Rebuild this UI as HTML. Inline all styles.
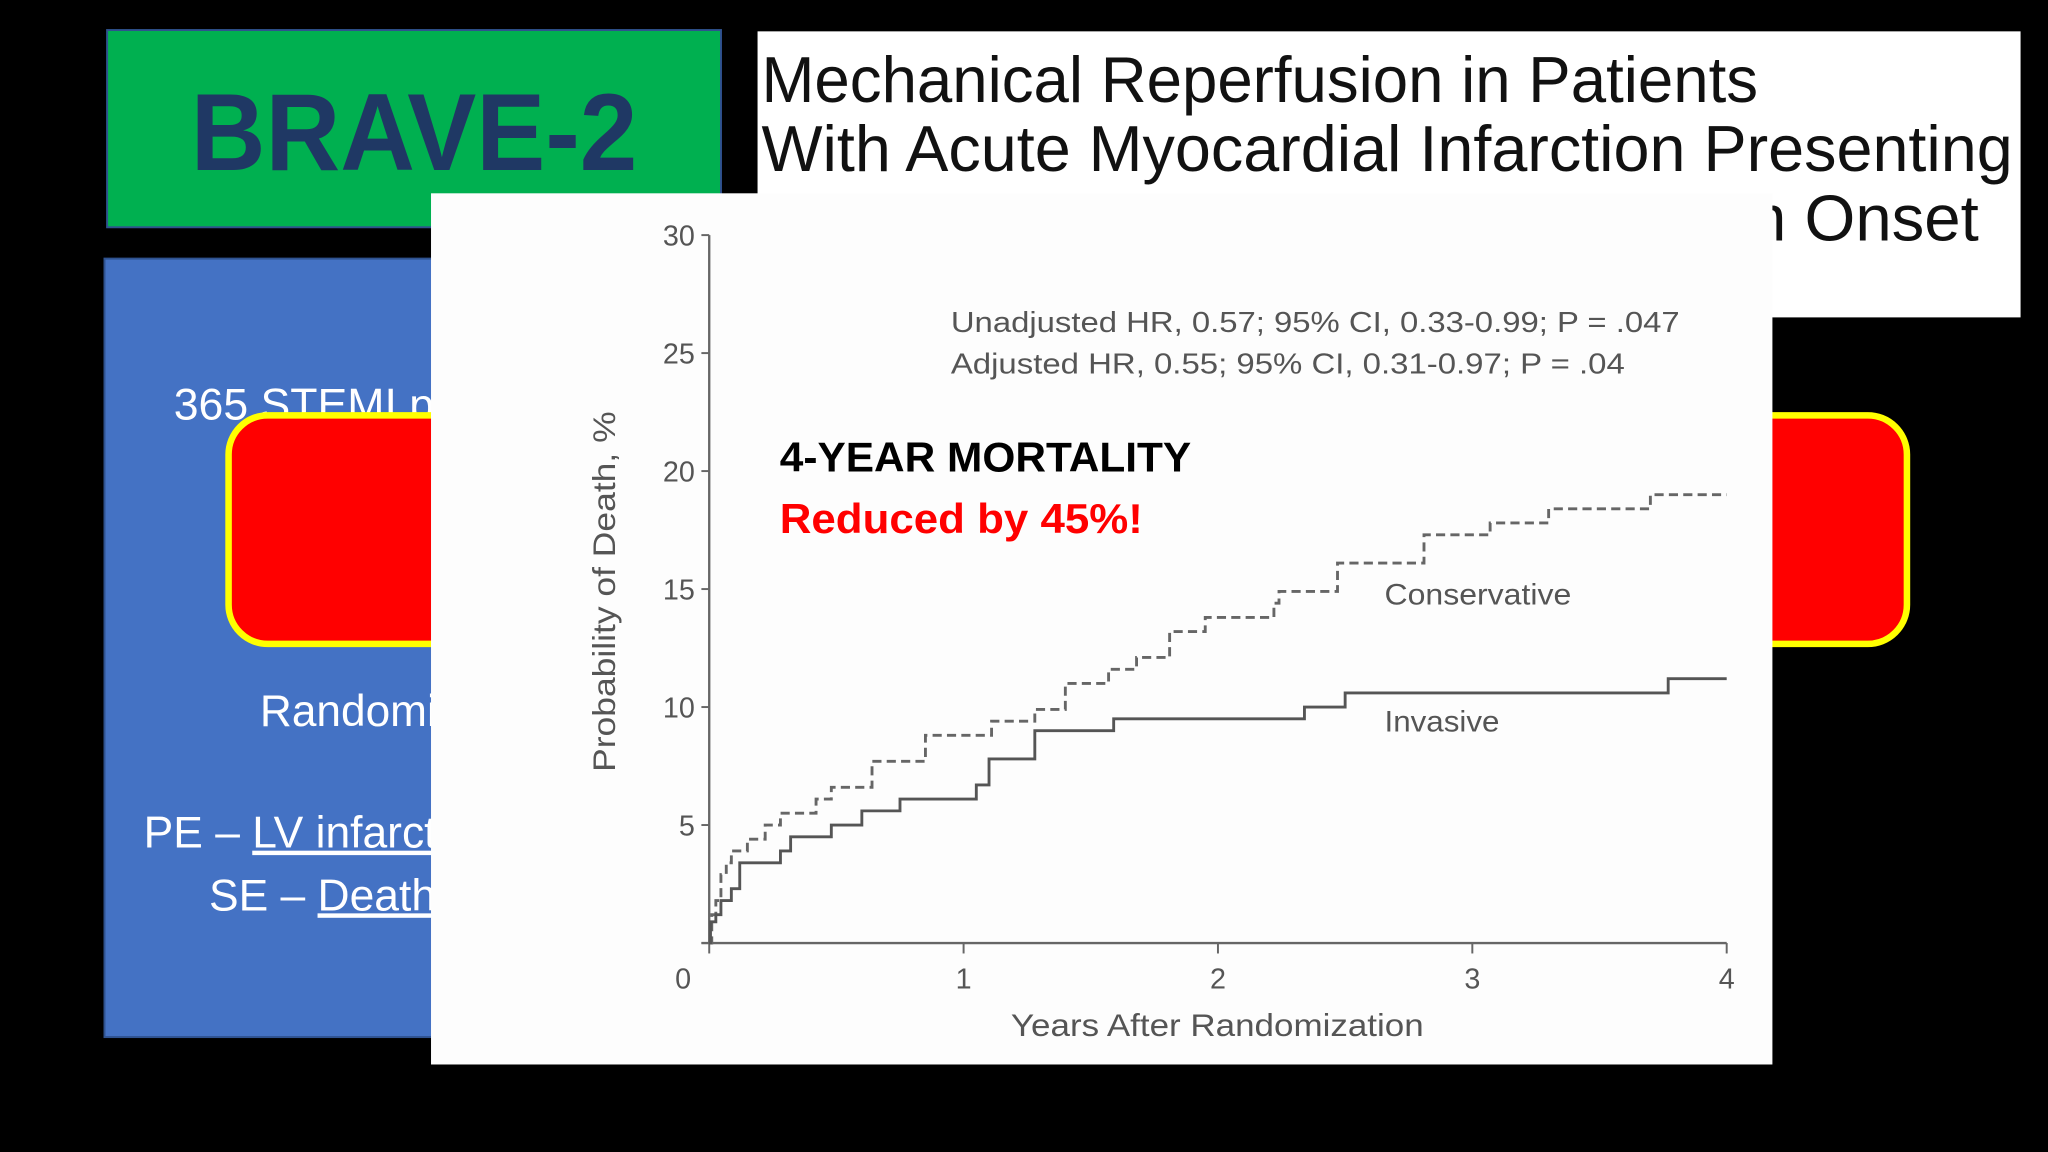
<!DOCTYPE html>
<html><head><meta charset="utf-8"><style>
html,body{margin:0;padding:0;background:#000;}
svg{display:block;}
</style></head><body>
<svg width="2048" height="1152" viewBox="0 0 1568 882" xmlns="http://www.w3.org/2000/svg">
<rect width="1568" height="882" fill="#000"/>
<rect x="80" y="198" width="260" height="596" fill="#4472c4" stroke="#2f528f" stroke-width="1.5"/>
<g font-family="Liberation Sans, sans-serif" font-size="34" fill="#fff">
<text x="133" y="321" textLength="300" lengthAdjust="spacingAndGlyphs">365 STEMI patients</text>
<text x="199" y="556" textLength="190" lengthAdjust="spacingAndGlyphs">Randomized</text>
<text x="110" y="649">PE – <tspan text-decoration="underline">LV infarct size</tspan></text>
<text x="160" y="697">SE – <tspan text-decoration="underline">Death</tspan></text>
</g>
<rect x="175" y="318" width="1285" height="175" rx="30" fill="#ff0000" stroke="#ffff00" stroke-width="5"/>
<rect x="82" y="23" width="470" height="151" fill="#00b050" stroke="#2f528f" stroke-width="1.5"/>
<text x="317" y="130" text-anchor="middle" font-family="Liberation Sans, sans-serif" font-weight="bold" font-size="84" fill="#1f3864" textLength="342" lengthAdjust="spacingAndGlyphs">BRAVE-2</text>
<rect x="580" y="24" width="967" height="219" fill="#fff"/>
<g font-family="Liberation Sans, sans-serif" font-size="50" fill="#111">
<text x="583" y="78" textLength="763" lengthAdjust="spacingAndGlyphs">Mechanical Reperfusion in Patients</text>
<text x="583" y="131" textLength="958" lengthAdjust="spacingAndGlyphs">With Acute Myocardial Infarction Presenting</text>
<text x="1515" y="184" text-anchor="end">More Than 12 Hours From Symptom Onset</text>
</g>
<rect x="330" y="148" width="1027" height="667" fill="#fdfdfd"/>
<g id="chart"></g>
<text x="597" y="361" font-family="Liberation Sans, sans-serif" font-weight="bold" font-size="32" fill="#000" textLength="315" lengthAdjust="spacingAndGlyphs">4-YEAR MORTALITY</text>
<text x="597" y="408" font-family="Liberation Sans, sans-serif" font-weight="bold" font-size="32" fill="#ff0000" textLength="278" lengthAdjust="spacingAndGlyphs">Reduced by 45%!</text>
</svg>
<script>
const xTicks = [0,1,2,3,4];
const yTicks = [0,5,10,15,20,25,30];
const consX = [0,0.01,0.026,0.046,0.067,0.087,0.15,0.22,0.28,0.42,0.48,0.64,0.85,1.11,1.28,1.40,1.57,1.68,1.81,1.95,2.22,2.24,2.47,2.81,3.07,3.30,3.70,4];
const consY = [0,1.2,1.8,2.9,3.4,3.9,4.4,5.0,5.5,6.1,6.6,7.7,8.8,9.4,9.9,11.0,11.6,12.1,13.2,13.8,14.4,14.9,16.1,17.3,17.8,18.4,19.0,19.0];
const invX = [0,0.005,0.026,0.046,0.087,0.12,0.28,0.32,0.48,0.60,0.75,1.05,1.10,1.28,1.59,2.34,2.50,3.77,4];
const invY = [0,0.9,1.2,1.8,2.3,3.4,3.9,4.5,5.0,5.6,6.1,6.7,7.8,9.0,9.5,10.0,10.6,11.2,11.2];
const x0=543,x1=1322,y0=722,y1=180;
const sx=v=>x0+(x1-x0)*v/4;
const sy=v=>y0-(y0-y1)*v/30;
const NS='http://www.w3.org/2000/svg';
const g=document.getElementById('chart');
function mk(tag,attrs){const e=document.createElementNS(NS,tag);for(const k in attrs)e.setAttribute(k,attrs[k]);g.appendChild(e);return e;}
const ya=mk('line',{x1:x0,y1:y0,x2:x0,y2:y1,stroke:'#666','stroke-width':1.8});


const xa=mk('line',{x1:x0-6,y1:y0,x2:x1,y2:y0,stroke:'#666','stroke-width':1.8});


yTicks.forEach(v=>{
  const t=mk('line',{x1:x0-6,y1:sy(v),x2:x0,y2:sy(v),stroke:'#666','stroke-width':1.5});
  
  
  if(v===0)return;
  const l=mk('text',{x:x0-11,y:sy(v)+8,'text-anchor':'end','font-family':'Liberation Sans, sans-serif','font-size':22,fill:'#555'});
  l.textContent=v;
  
  
});
xTicks.forEach(v=>{
  const t=mk('line',{x1:sx(v),y1:y0,x2:sx(v),y2:y0+8,stroke:'#666','stroke-width':1.5});
  
  
  const l=mk('text',{x:sx(v)-(v===0?20:0),y:y0+35,'text-anchor':'middle','font-family':'Liberation Sans, sans-serif','font-size':22,fill:'#555'});
  l.textContent=v;
  
  
});
function stepPath(xs,ys){let d='M'+sx(xs[0])+' '+sy(ys[0]);for(let i=1;i<xs.length;i++){d+=' H'+sx(xs[i])+' V'+sy(ys[i]);}return d;}
const pc=mk('path',{d:stepPath(consX,consY),fill:'none',stroke:'#666','stroke-width':2.2,'stroke-dasharray':'7 4'});


const pi=mk('path',{d:stepPath(invX,invY),fill:'none',stroke:'#555','stroke-width':2.2});


function txt(x,y,s,size,name,extra){const e=mk('text',Object.assign({x:x,y:y,'font-family':'Liberation Sans, sans-serif','font-size':size,fill:'#555'},extra||{}));e.textContent=s;return e;}
txt(1060,463,'Conservative',23,'conservative-label',{textLength:143,lengthAdjust:'spacingAndGlyphs'});
txt(1060,560,'Invasive',23,'invasive-label',{textLength:88,lengthAdjust:'spacingAndGlyphs'});
txt(728,254,'Unadjusted HR, 0.57; 95% CI, 0.33-0.99; P = .047',22,'unadjusted-hr-text',{textLength:558,lengthAdjust:'spacingAndGlyphs'});
txt(728,286,'Adjusted HR, 0.55; 95% CI, 0.31-0.97; P = .04',22,'adjusted-hr-text',{textLength:516,lengthAdjust:'spacingAndGlyphs'});
txt(932,793,'Years After Randomization',24,'x-axis-title',{'text-anchor':'middle',textLength:316,lengthAdjust:'spacingAndGlyphs'});
txt(0,0,'Probability of Death, %',24,'y-axis-title',{'text-anchor':'middle',transform:'translate(471,453) rotate(-90)',textLength:276,lengthAdjust:'spacingAndGlyphs'});
</script>
</body></html>
